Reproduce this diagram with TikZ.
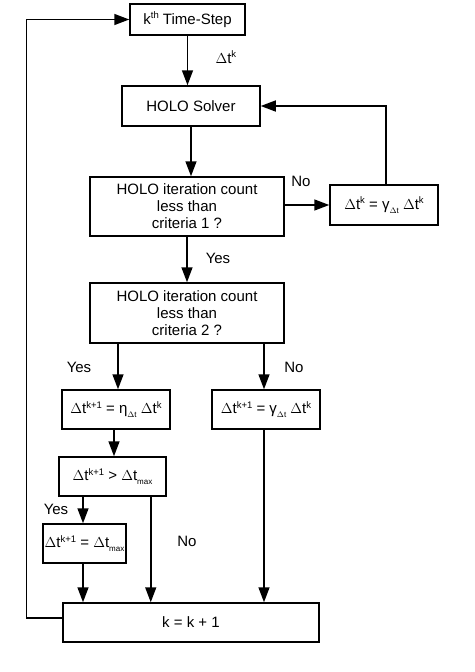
\documentclass[tikz,border=0pt]{standalone}
\usepackage{fontspec}
\setmainfont{Liberation Sans}
\usetikzlibrary{arrows.meta}
\newcommand{\up}[1]{\raisebox{5.5pt}{\fontsize{9.5}{9.5}\selectfont #1}}
\newcommand{\dn}[1]{\raisebox{-4pt}{\fontsize{8}{8}\selectfont #1}}
\begin{document}
\begin{tikzpicture}[x=1pt, y=-1pt,
    box/.style={draw, line width=1.5pt, inner sep=0pt, align=center},
    arr/.style={line width=1.5pt, -{Triangle[length=15pt, width=11pt]}},
    every node/.style={font=\fontsize{15}{17}\selectfont}]
    \useasboundingbox (0,0) rectangle (474,672);

    % boxes
    \node[box, minimum width=115pt, minimum height=31pt] (step) at (187.5,19.5) {k\up{th} Time-Step};
    \node[box, minimum width=138pt, minimum height=40pt] (solver) at (191,106) {HOLO Solver};
    \node[box, minimum width=194pt, minimum height=59pt] (crit1) at (187,206.5) {HOLO iteration count\\less than\\criteria 1 ?};
    \node[box, minimum width=108pt, minimum height=40pt] (cut) at (384,205) {$\Delta$t\up{k} = γ\dn{$\Delta$t} $\Delta$t\up{k}};
    \node[box, minimum width=194pt, minimum height=60pt] (crit2) at (187,313) {HOLO iteration count\\less than\\criteria 2 ?};
    \node[box, minimum width=108pt, minimum height=39pt] (grow) at (116,409.5) {$\Delta$t\up{k+1} = η\dn{$\Delta$t} $\Delta$t\up{k}};
    \node[box, minimum width=108pt, minimum height=39pt] (keep) at (266,409.5) {$\Delta$t\up{k+1} = γ\dn{$\Delta$t} $\Delta$t\up{k}};
    \node[box, minimum width=107pt, minimum height=39pt] (check) at (112.5,476.5) {$\Delta$t\up{k+1} > $\Delta$t\dn{max}};
    \node[box, minimum width=83pt, minimum height=39pt] (clip) at (84.5,543.5) {$\Delta$t\up{k+1} = $\Delta$t\dn{max}};
    \node[box, minimum width=256pt, minimum height=39pt] (next) at (191,622.5) {k = k + 1};

    % labels
    \node[anchor=west] (ldt) at (212,57) {$\Delta$t\up{k}};
    \node (lno1) at (301,181) {No};
    \node (lyes1) at (218,258) {Yes};
    \node (lyes2) at (79,367) {Yes};
    \node (lno2) at (294,367) {No};
    \node (lyes3) at (56,509) {Yes};
    \node (lno3) at (187,541) {No};

    % connectors
    \draw[arr] (step.south) -- (step.south |- solver.north);
    \draw[arr] (solver.south) -- (solver.south |- crit1.north);
    \draw[arr] (crit1.east |- cut.west) -- (cut.west);
    \draw[arr] ([xshift=2pt]cut.north) |- (solver.east);
    \draw[arr] (crit1.south) -- (crit2.north);
    \draw[arr] ([xshift=2pt]grow.north |- crit2.south) -- ([xshift=2pt]grow.north);
    \draw[arr] ([xshift=-2pt]keep.north |- crit2.south) -- ([xshift=-2pt]keep.north);
    \draw[arr] ([xshift=-2pt]grow.south) -- ([xshift=-2pt]grow.south |- check.north);
    \draw[arr] ([xshift=-1.5pt]clip.north |- check.south) -- ([xshift=-1.5pt]clip.north);
    \draw[arr] ([xshift=-16pt]check.south east) coordinate (nocut) -- (nocut |- next.north);
    \draw[arr] ([xshift=-1.5pt]clip.south) -- ([xshift=-1.5pt]clip.south |- next.north);
    \draw[arr] ([xshift=-2pt]keep.south) -- ([xshift=-2pt]keep.south |- next.north);
    \draw[arr] ([yshift=4.5pt]next.west) -- ++(-36,0) |- (step.west);
\end{tikzpicture}
\end{document}
